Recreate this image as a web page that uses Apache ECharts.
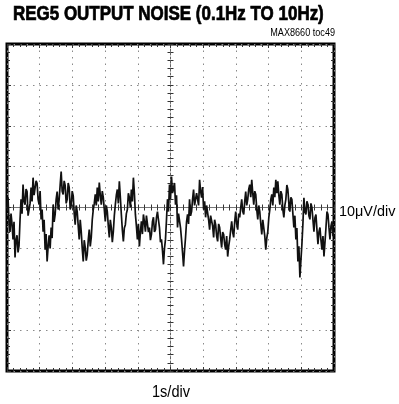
<!DOCTYPE html>
<html>
<head>
<meta charset="utf-8">
<title>REG5 Output Noise</title>
<script src="https://cdn.jsdelivr.net/npm/echarts@6/dist/echarts.min.js"></script>
<style>
  html, body { margin: 0; padding: 0; background: #fff; }
  #chart { width: 399px; height: 404px; }
</style>
</head>
<body>
<div id="chart"></div>
<script>
const noiseUv = [
  -0.5, 2.5, -3.4, -6.0, -1.5, -4.0, -7.8, -3.5, -12.2, -8.0, -6.8, -11.0, -9.3, -3.0, 2.0, -1.5,
  5.6, 1.5, 0.7, 4.5, 3.9, -2.0, -1.7, 1.0, 4.9, 1.5, 7.3, 3.0, 2.9, 6.5, 5.9, 2.0,
  0.7, 4.0, -2.9, -0.5, -5.9, -3.0, -10.3, -6.5, -13.2, -9.5, -6.8, -10.0, -4.9, -7.5, 0.7, -3.5,
  -1.7, 2.0, 3.9, -0.5, 2.0, 5.5, 8.8, 4.0, 3.2, 6.5, 5.4, 1.0, 2.0, 6.0, 4.9, -0.5,
  0.5, 4.0, 2.9, -1.5, -4.2, 0.5, -1.0, -4.5, -7.8, -3.0, -5.9, -10.0, -13.2, -8.0, -9.8, -13.0,
  -11.5, -8.0, -5.4, -9.5, -7.3, -3.0, -0.5, 1.0, 3.2, 0.5, 4.9, 1.5, 6.1, 3.0, 0.7, 4.0,
  2.4, -0.5, -3.4, 0.5, -1.0, -4.5, -7.3, -3.0, -4.9, -8.5, -5.9, -2.0, 0.7, 3.0, 4.4, 1.0,
  6.4, 2.5, -1.7, -5.5, -8.3, -5.0, -4.2, -1.5, -0.5, 3.5, 2.4, 0.0, 4.4, 1.5, 7.3, 3.5,
  -1.7, -4.5, -7.8, -4.0, -9.5, -6.0, -3.4, -6.5, -1.7, -3.5, -5.9, -2.0, -2.4, -6.0, -4.9, -8.0,
  -6.6, -3.5, -2.4, -6.0, -5.4, -2.5, -1.0, -3.0, -4.9, -8.5, -7.8, -10.5, -13.9, -10.0, -7.8, -3.0,
  2.0, -1.0, 5.6, 2.0, 7.6, 3.5, 3.9, 6.0, 0.7, 3.0, -4.9, -1.5, -1.7, -5.0, -7.8, -11.0,
  -14.4, -10.5, -7.3, -3.5, -1.7, -4.0, 2.0, -2.0, -1.0, 2.0, 4.4, 0.5, 0.7, 3.5, 3.2, 0.5,
  6.8, 4.0, 2.4, 5.0, -0.5, 1.5, -2.4, 0.5, 0.7, -3.0, -5.4, -2.0, -1.7, -4.5, -7.3, -3.0,
  -4.2, -7.0, -8.3, -4.0, -4.9, -7.5, -9.8, -6.0, -6.6, -9.0, -10.3, -7.0, -12.0, -9.5, -7.8, -5.5,
  -3.4, -6.0, -7.3, -3.5, -1.0, -4.0, -5.4, -1.5, -2.4, 0.0, 2.0, -1.0, -1.7, 1.5, 3.9, 0.5,
  2.0, 4.5, 5.6, 2.5, 6.8, 3.5, 0.7, 4.0, 3.2, -0.5, -2.9, 0.5, -1.0, -4.0, -6.6, -3.0,
  -3.4, -7.0, -10.3, -7.5, -5.9, -2.5, -0.5, 2.0, 3.2, 0.5, 4.9, 2.5, 6.8, 3.5, 6.4, 3.0,
  0.7, 4.0, 3.2, -0.5, -2.4, 0.5, 2.0, 5.5, 4.4, 1.0, -1.0, 2.5, 2.0, -1.5, -4.9, -2.0,
  -7.8, -5.0, -13.2, -9.5, -17.1, -13.0, -9.0, -4.0, 2.4, -1.0, -1.7, 1.5, 0.7, -2.0, -2.9, 1.0,
  0.0, -3.0, -5.9, -2.5, -1.7, -5.5, -9.0, -6.0, -4.9, -8.0, -10.3, -7.0, -12.0, -8.5, -4.9, -1.0,
  -1.7, -5.0, -7.8, -4.5, -3.4, -7.0, -6.6
]

const timeSpan = [-5, 5]      // 1s/div, 10 divisions
const voltSpan = [-40, 40]    // 10uV/div, 8 divisions

const titleText = 'REG5 OUTPUT NOISE (0.1Hz TO 10Hz)'
const tocText = 'MAX8660 toc49'
const yUnitText = '10\u03bcV/div'
const xUnitText = '1s/div'

const dt = (timeSpan[1] - timeSpan[0]) / (noiseUv.length - 1)
const trace = noiseUv.map((v, i) => [timeSpan[0] + i * dt, v])

const FONT = '"Liberation Sans", Arial, sans-serif'
const dots = { color: '#8a8a8a', width: 1, type: [1.5, 5] }
const tickStyle = { color: '#333', width: 1 }

function xAx(extra) {
  return Object.assign({
    type: 'value', min: timeSpan[0], max: timeSpan[1], interval: 1,
    axisLabel: { show: false },
    splitLine: { show: false },
    axisLine: { show: false, onZero: false },
    axisTick: { show: true, inside: true, length: 4, lineStyle: tickStyle },
    minorTick: { show: true, splitNumber: 5, length: 3, lineStyle: tickStyle }
  }, extra)
}
function yAx(extra) {
  return Object.assign({
    type: 'value', min: voltSpan[0], max: voltSpan[1], interval: 10,
    axisLabel: { show: false },
    splitLine: { show: false },
    axisLine: { show: false, onZero: false },
    axisTick: { show: true, inside: true, length: 4, lineStyle: tickStyle },
    minorTick: { show: true, splitNumber: 5, length: 3, lineStyle: tickStyle }
  }, extra)
}

// narrow type: plain sans squeezed horizontally
function label(text, x, y, size, weight, align, vAlign, sx, thicken) {
  const style = {
    text: text, fill: '#000', align: align, verticalAlign: vAlign,
    font: weight + ' ' + size + 'px ' + FONT
  }
  if (thicken) {
    style.stroke = '#000'
    style.lineWidth = thicken
  }
  return { type: 'text', x: x, y: y, scaleX: sx, z: 10, style: style }
}

const chart = echarts.init(document.getElementById('chart'), null, { renderer: 'canvas' })

chart.setOption({
  animation: false,
  graphic: [
    label(titleText, 13, 5, 19.5, 'bold', 'left', 'top', 0.87, 0.7),
    label(tocText, 335, 28, 10, 'normal', 'right', 'top', 0.91),
    label(yUnitText, 339, 212, 15.5, 'normal', 'left', 'middle', 0.93),
    label(xUnitText, 171, 393, 16, 'normal', 'center', 'middle', 0.91)
  ],
  grid: {
    left: 7, right: 65, top: 44, bottom: 33,
    show: true, borderColor: '#000', borderWidth: 3, backgroundColor: '#fff'
  },
  xAxis: [
    xAx({ position: 'bottom', splitLine: { show: true, lineStyle: dots } }),
    xAx({ position: 'top' }),
    // centre horizontal line with crossing ticks
    xAx({ position: 'bottom', axisLine: { show: true, onZero: true, onZeroAxisIndex: 0, lineStyle: { color: '#777', width: 1 } },
      axisTick: { show: true, inside: true, length: 3, lineStyle: tickStyle } }),
    xAx({ position: 'bottom', axisLine: { show: false, onZero: true, onZeroAxisIndex: 0 },
      axisTick: { show: true, inside: false, length: 3, lineStyle: tickStyle },
      minorTick: { show: true, splitNumber: 5, length: 3, lineStyle: tickStyle } })
  ],
  yAxis: [
    yAx({ position: 'left', splitLine: { show: true, lineStyle: dots } }),
    yAx({ position: 'right' }),
    // centre vertical line with crossing ticks
    yAx({ position: 'left', axisLine: { show: true, onZero: true, onZeroAxisIndex: 0, lineStyle: { color: '#666', width: 1, type: [2, 2] } },
      axisTick: { show: true, inside: true, length: 3, lineStyle: tickStyle } }),
    yAx({ position: 'left', axisLine: { show: false, onZero: true, onZeroAxisIndex: 0 },
      axisTick: { show: true, inside: false, length: 3, lineStyle: tickStyle },
      minorTick: { show: true, splitNumber: 5, length: 3, lineStyle: tickStyle } })
  ],
  series: [{
    type: 'line',
    data: trace,
    xAxisIndex: 0,
    yAxisIndex: 0,
    showSymbol: false,
    lineStyle: { color: '#111', width: 1.7 },
    z: 5
  }]
})
</script>
</body>
</html>
